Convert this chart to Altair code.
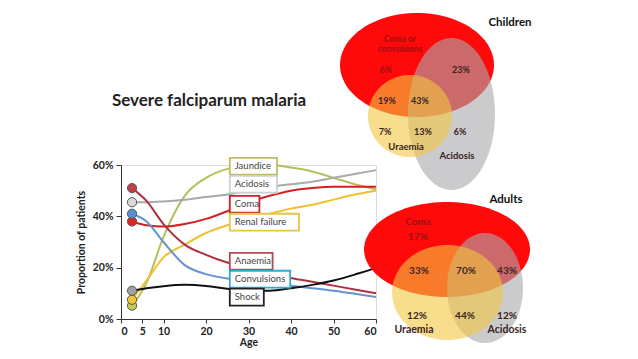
import altair as alt
import pandas as pd
import numpy as np

# ---------------- data: line chart ----------------
ages = [2.6, 6, 10, 15, 20, 25, 30, 35, 40, 45, 50, 55, 60]
series = ["Jaundice", "Acidosis", "Coma", "Renal failure", "Anaemia", "Convulsions", "Shock"]
jaundice = [5.2, 14, 32, 48, 55, 58.5, 60, 60, 59, 57.5, 55, 52.5, 50.5]
acidosis = [45.5, 45.5, 45.8, 46.5, 47.5, 48.5, 50, 51.5, 52.5, 53.5, 55, 56.5, 58]
coma = [38, 36.5, 36, 37, 39, 42, 45.5, 48, 50, 51, 51.5, 51.5, 51.5]
renal = [7.5, 15, 24, 29, 33.5, 36.5, 39, 41, 43, 44.5, 46.5, 48.5, 50]
anaemia = [51, 46, 37, 29, 25, 22, 20, 18, 16, 14.5, 13, 11.5, 10]
convulsions = [41, 38, 30, 21, 17.5, 15.8, 15, 14, 13, 12, 11, 9.8, 8.6]
shock = [11, 12, 12.8, 13.3, 12.9, 11.8, 11, 11, 12, 13.3, 15, 17.3, 20]
shock_tail_age, shock_tail_val = 64, 23
values = [jaundice, acidosis, coma, renal, anaemia, convulsions, shock]

label_y = [59.5, 52.5, 44.7, 37.7, 22.5, 15.5, 8.5]
label_x = 25.6

line_colors = ["#b3c05a", "#a9a9a9", "#d42020", "#f0c030", "#b0303c", "#6592d0", "#111111"]
point_fill = ["#c9c855", "#dadada", "#e02424", "#f2c634", "#c2404a", "#5b8fd5", "#a2a2a2"]
box_stroke = ["#bcbc6a", "#cfcfcf", "#c8202c", "#e9c445", "#b34652", "#2fa9d9", "#222222"]

# ---------------- data: venn diagrams ----------------
children_pcts = [6, 23, 19, 43, 7, 13, 6]
adults_pcts = [17, 33, 70, 43, 12, 44, 12]

rows = []
for s, vals in zip(series, values):
    for a, v in zip(ages, vals):
        rows.append({"series": s, "x": a, "y": v / 100})
rows.append({"series": "Shock", "x": shock_tail_age, "y": shock_tail_val / 100})
lines_df = pd.DataFrame(rows)

pts_df = pd.DataFrame({"series": series, "x": [ages[0]] * 7,
                       "y": [v[0] / 100 for v in values]})
pts_order = ["Jaundice", "Renal failure", "Shock", "Anaemia", "Acidosis", "Coma", "Convulsions"]
pts_df["ord"] = pts_df["series"].map({s: i for i, s in enumerate(pts_order)})

lab_df = pd.DataFrame({"series": series, "x": [label_x] * 7, "y": [v / 100 for v in label_y]})

FONT = "Lato"
xs = alt.Scale(domain=[0, 60], nice=False, zero=False)
ys = alt.Scale(domain=[0, 0.6], nice=False, zero=False)
x_axis = alt.Axis(
    values=[0, 5, 10, 20, 30, 40, 50, 60], title="Age", grid=False,
    labelFontWeight="bold", labelFontSize=10.5, titleFontSize=10.5, titleFontWeight="bold",
    titlePadding=1, labelColor="#222", titleColor="#222", domainColor="#333",
    tickColor="#333", tickSize=4, labelPadding=3, labelFont=FONT, titleFont=FONT)
y_axis = alt.Axis(
    values=[0, 0.2, 0.4, 0.6], format=".0%", title="Proportion of patients", grid=False,
    labelFontWeight="bold", labelFontSize=10.5, titleFontSize=10.5, titleFontWeight="bold",
    labelColor="#222", titleColor="#222", domainColor="#333", tickColor="#333",
    tickSize=5, labelPadding=3, titlePadding=6, labelFont=FONT, titleFont=FONT)
X = alt.X("x:Q", scale=xs, axis=x_axis)
Y = alt.Y("y:Q", scale=ys, axis=y_axis)

col_line = alt.Scale(domain=series, range=line_colors)
col_fill = alt.Scale(domain=series, range=point_fill)
col_box = alt.Scale(domain=series, range=box_stroke)

lines = alt.Chart(lines_df).mark_line(interpolate="monotone", strokeWidth=2).encode(
    x=X, y=Y,
    color=alt.Color("series:N", scale=col_line, legend=None),
    detail="series:N",
)

points = alt.Chart(pts_df).mark_circle(size=85, opacity=1, stroke="#555", strokeWidth=1).encode(
    x=X, y=Y,
    fill=alt.Fill("series:N", scale=col_fill, legend=None),
    order=alt.Order("ord:Q"),
)

boxes = alt.Chart(lab_df).transform_calculate(
    x2="datum.x + (length(datum.series) * 4.4 + 12) / 4.25",
    ylo="datum.y - 0.033",
    yhi="datum.y + 0.033",
).mark_rect(fill="white", strokeWidth=1.8).encode(
    x=X, x2="x2:Q",
    y=alt.Y("ylo:Q", scale=ys, axis=y_axis), y2="yhi:Q",
    stroke=alt.Stroke("series:N", scale=col_box, legend=None),
)

box_text = alt.Chart(lab_df).mark_text(align="left", baseline="middle", dx=5, fontSize=9.5,
                                       color="#444", font=FONT).encode(
    x=X, y=Y, text="series:N",
)

main = alt.layer(lines, points, boxes, box_text).resolve_scale(
    color="independent", fill="independent", stroke="independent")

# ---------------- venn layout (page pixel coordinates) ----------------
def ellipse_path(ratio, n=90):
    t = np.linspace(0, 2 * np.pi, n, endpoint=False)
    return "M" + "L".join(f"{np.cos(a):.4f},{ratio * np.sin(a):.4f}" for a in t) + "Z"

RED, GREY, YEL = "#ff0a0a", "#a8a8ac", "#f2c640"
ell = [
    (417, 65, 77, 52, RED, 1.0), (451.5, 114, 43.5, 76, GREY, 0.6), (410, 116, 42, 41, YEL, 0.6),
    (447, 249.5, 83, 47.5, RED, 1.0), (485, 288, 38, 55, GREY, 0.6), (447.5, 292.5, 55.5, 47.5, YEL, 0.6),
]
ell_df = pd.DataFrame([{"px": cx, "py": cy, "shape": ellipse_path(ry / rx), "sz": (2 * rx) ** 2,
                        "col": c, "op": o, "k": i} for i, (cx, cy, rx, ry, c, o) in enumerate(ell)])

vx = alt.Scale(domain=[121, 376], nice=False, zero=False)
vy = alt.Scale(domain=[165, 319], reverse=True, nice=False, zero=False)

ellipses = alt.Chart(ell_df).mark_point(filled=True, strokeWidth=0).encode(
    x=alt.X("px:Q", scale=vx, axis=None),
    y=alt.Y("py:Q", scale=vy, axis=None),
    shape=alt.Shape("shape:N", scale=None),
    size=alt.Size("sz:Q", scale=None),
    fill=alt.Fill("col:N", scale=None),
    opacity=alt.Opacity("op:Q", scale=None),
    order=alt.Order("k:Q"),
)

DARK, DRED = "#3a2422", "#9a1010"
c_pos = [(386, 70), (461, 70), (387, 101), (420, 101), (385, 132), (423, 132), (460, 132)]
a_pos = [(418, 237), (419, 271), (466, 271), (507, 271), (417, 316), (465, 316), (507, 316)]
txt = []
for i, (p, (x, y)) in enumerate(zip(children_pcts, c_pos)):
    txt.append((f"{p}%", x, y, 9, DRED if i == 0 else DARK))
for i, (p, (x, y)) in enumerate(zip(adults_pcts, a_pos)):
    txt.append((f"{p}%", x, y, 10, DRED if i == 0 else DARK))
txt += [
    ("Coma or", 400, 39, 8.5, DRED), ("convulsions", 400, 49, 8.5, DRED),
    ("Uraemia", 406, 147, 9.5, DARK), ("Acidosis", 457, 156, 9.5, DARK),
    ("Children", 510, 23, 11.5, "#111"),
    ("Coma", 418, 222, 10, DRED),
    ("Uraemia", 414, 330, 10.5, DARK), ("Acidosis", 507, 330, 10.5, DARK),
    ("Adults", 506, 200, 11.5, "#111"),
    ("Severe falciparum malaria", 209, 101, 17, "#222"),
]
txt_df = pd.DataFrame(txt, columns=["t", "px", "py", "fs", "col"])

venn_text = alt.Chart(txt_df).mark_text(fontWeight="bold", align="center", baseline="middle",
                                        font=FONT).encode(
    x=alt.X("px:Q", scale=vx, axis=None),
    y=alt.Y("py:Q", scale=vy, axis=None),
    text="t:N",
    size=alt.Size("fs:Q", scale=None),
    color=alt.Color("col:N", scale=None),
)

venn = alt.layer(ellipses, venn_text)

chart = alt.layer(main, venn).resolve_scale(
    x="independent", y="independent", color="independent", fill="independent",
    size="independent", shape="independent", opacity="independent", stroke="independent",
).properties(
    width=255, height=154,
    autosize=alt.AutoSizeParams(type="none"),
    padding={"left": 113, "top": 157, "right": 246, "bottom": 32},
).configure_view(stroke=None).configure(background="white")

chart.save("out.html", embed_options={"renderer": "svg", "actions": False})
